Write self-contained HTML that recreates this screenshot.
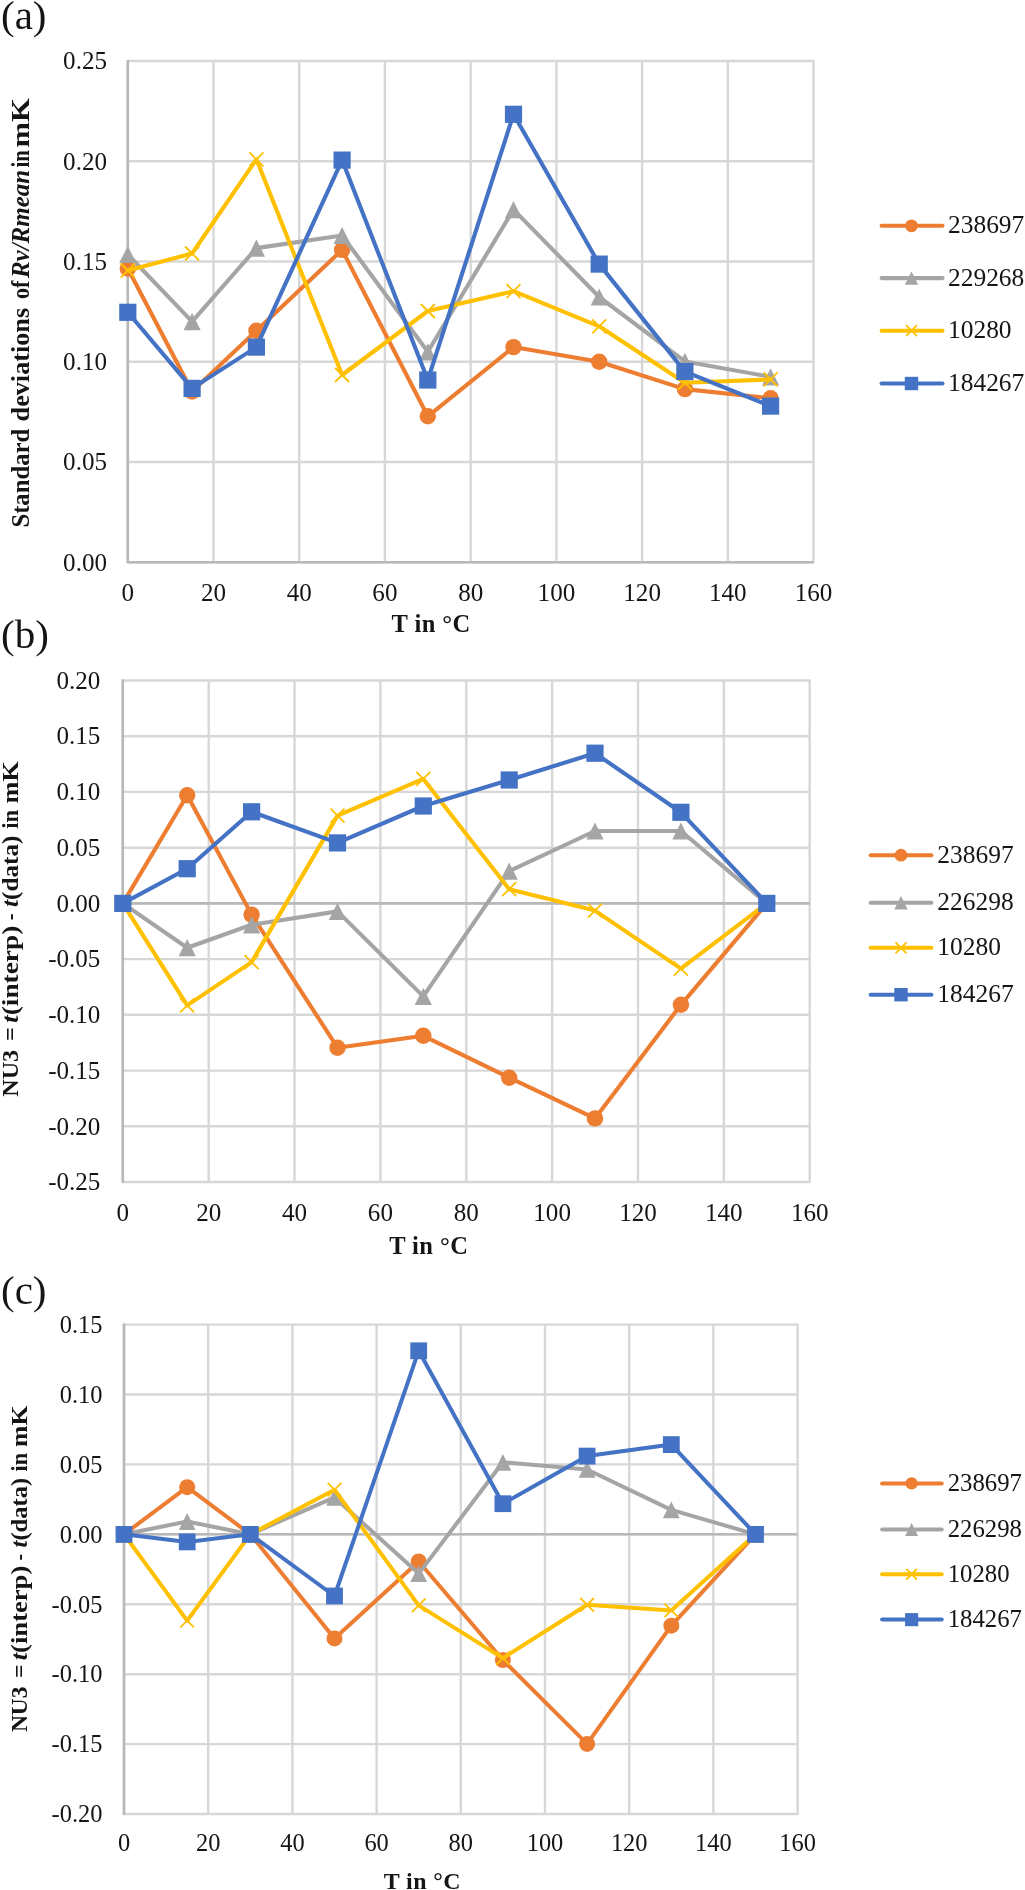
<!DOCTYPE html>
<html lang="en"><head><meta charset="utf-8"><title>Figure</title>
<style>
html,body{margin:0;padding:0;background:#fff}
svg{display:block;filter:blur(0.45px)}
text{font-family:"Liberation Serif","Times New Roman",serif;fill:#151515}
.ti{font-weight:bold}
.pl{font-size:41px}
</style></head><body>
<svg width="1025" height="1890" viewBox="0 0 1025 1890">
<rect width="1025" height="1890" fill="#fff"/>
<g id="chart-a">
<path d="M127.8 562.3H813.5M127.8 462.0H813.5M127.8 361.8H813.5M127.8 261.5H813.5M127.8 161.3H813.5M127.8 61.0H813.5M127.8 60.0V563.3M213.5 60.0V563.3M299.2 60.0V563.3M384.9 60.0V563.3M470.7 60.0V563.3M556.4 60.0V563.3M642.1 60.0V563.3M727.8 60.0V563.3M813.5 60.0V563.3" stroke="#D7D7D7" stroke-width="2.4" fill="none"/>
<path d="M127.8 60.0V563.3M127.8 562.3H813.5" stroke="#B9B9B9" stroke-width="2.6" fill="none"/>
<text class="tk" transform="translate(107.0 570.5) scale(0.962 1)" font-size="26.1" text-anchor="end">0.00</text><text class="tk" transform="translate(107.0 470.2) scale(0.962 1)" font-size="26.1" text-anchor="end">0.05</text><text class="tk" transform="translate(107.0 370.0) scale(0.962 1)" font-size="26.1" text-anchor="end">0.10</text><text class="tk" transform="translate(107.0 269.7) scale(0.962 1)" font-size="26.1" text-anchor="end">0.15</text><text class="tk" transform="translate(107.0 169.5) scale(0.962 1)" font-size="26.1" text-anchor="end">0.20</text><text class="tk" transform="translate(107.0 69.2) scale(0.962 1)" font-size="26.1" text-anchor="end">0.25</text>
<text class="tk" transform="translate(127.8 600.7) scale(0.962 1)" font-size="26.1" text-anchor="middle">0</text><text class="tk" transform="translate(213.5 600.7) scale(0.962 1)" font-size="26.1" text-anchor="middle">20</text><text class="tk" transform="translate(299.2 600.7) scale(0.962 1)" font-size="26.1" text-anchor="middle">40</text><text class="tk" transform="translate(384.9 600.7) scale(0.962 1)" font-size="26.1" text-anchor="middle">60</text><text class="tk" transform="translate(470.7 600.7) scale(0.962 1)" font-size="26.1" text-anchor="middle">80</text><text class="tk" transform="translate(556.4 600.7) scale(0.962 1)" font-size="26.1" text-anchor="middle">100</text><text class="tk" transform="translate(642.1 600.7) scale(0.962 1)" font-size="26.1" text-anchor="middle">120</text><text class="tk" transform="translate(727.8 600.7) scale(0.962 1)" font-size="26.1" text-anchor="middle">140</text><text class="tk" transform="translate(813.5 600.7) scale(0.962 1)" font-size="26.1" text-anchor="middle">160</text>
<text class="ti" x="431.1" y="631.9" font-size="24.5" letter-spacing="0.45" text-anchor="middle">T in °C</text>
<text class="ti" transform="translate(28.9 527.1) rotate(-90)" font-size="25.2" xml:space="preserve"><tspan x="-0.5" y="0" textLength="98.9" lengthAdjust="spacingAndGlyphs">Standard</tspan> <tspan x="105.7" y="0" textLength="113.5" lengthAdjust="spacingAndGlyphs">deviations</tspan> <tspan x="228.0" y="0" textLength="18.5" lengthAdjust="spacingAndGlyphs">of</tspan> <tspan x="249.0" y="0" textLength="108.2" lengthAdjust="spacingAndGlyphs"><tspan font-style="italic">Rv/Rmean</tspan></tspan> <tspan x="359.7" y="0" textLength="17.3" lengthAdjust="spacingAndGlyphs">in</tspan> <tspan x="379.5" y="0" textLength="49.4" lengthAdjust="spacingAndGlyphs">mK</tspan></text>
<text class="pl" x="1.0" y="28.7">(a)</text>
<polyline points="127.8,268.5 192.1,391.5 256.4,330.7 342.1,249.9 427.8,416.3 513.5,347.1 599.2,361.8 684.9,389.1 770.6,398.3" fill="none" stroke="#ED7D31" stroke-width="4.10" stroke-linejoin="round" stroke-linecap="round"/>
<circle cx="127.8" cy="268.5" r="8.2" fill="#ED7D31"/><circle cx="192.1" cy="391.5" r="8.2" fill="#ED7D31"/><circle cx="256.4" cy="330.7" r="8.2" fill="#ED7D31"/><circle cx="342.1" cy="249.9" r="8.2" fill="#ED7D31"/><circle cx="427.8" cy="416.3" r="8.2" fill="#ED7D31"/><circle cx="513.5" cy="347.1" r="8.2" fill="#ED7D31"/><circle cx="599.2" cy="361.8" r="8.2" fill="#ED7D31"/><circle cx="684.9" cy="389.1" r="8.2" fill="#ED7D31"/><circle cx="770.6" cy="398.3" r="8.2" fill="#ED7D31"/>
<polyline points="127.8,254.5 192.1,321.7 256.4,248.1 342.1,235.5 427.8,351.8 513.5,209.6 599.2,297.0 684.9,361.4 770.6,376.8" fill="none" stroke="#A5A5A5" stroke-width="4.10" stroke-linejoin="round" stroke-linecap="round"/>
<polygon points="127.8,245.9 136.4,263.1 119.2,263.1" fill="#A5A5A5"/><polygon points="192.1,313.1 200.7,330.3 183.5,330.3" fill="#A5A5A5"/><polygon points="256.4,239.5 265.0,256.7 247.8,256.7" fill="#A5A5A5"/><polygon points="342.1,226.9 350.7,244.1 333.5,244.1" fill="#A5A5A5"/><polygon points="427.8,343.2 436.4,360.4 419.2,360.4" fill="#A5A5A5"/><polygon points="513.5,201.0 522.1,218.2 504.9,218.2" fill="#A5A5A5"/><polygon points="599.2,288.4 607.8,305.6 590.6,305.6" fill="#A5A5A5"/><polygon points="684.9,352.8 693.5,370.0 676.3,370.0" fill="#A5A5A5"/><polygon points="770.6,368.2 779.2,385.4 762.0,385.4" fill="#A5A5A5"/>
<polyline points="127.8,270.5 192.1,253.5 256.4,159.3 342.1,375.0 427.8,311.0 513.5,291.2 599.2,326.3 684.9,382.8 770.6,379.4" fill="none" stroke="#FFC000" stroke-width="4.10" stroke-linejoin="round" stroke-linecap="round"/>
<path d="M120.8 263.5L134.8 277.5M120.8 277.5L134.8 263.5" stroke="#FFC000" stroke-width="1.8" fill="none"/><path d="M185.1 246.5L199.1 260.5M185.1 260.5L199.1 246.5" stroke="#FFC000" stroke-width="1.8" fill="none"/><path d="M249.4 152.3L263.4 166.3M249.4 166.3L263.4 152.3" stroke="#FFC000" stroke-width="1.8" fill="none"/><path d="M335.1 368.0L349.1 382.0M335.1 382.0L349.1 368.0" stroke="#FFC000" stroke-width="1.8" fill="none"/><path d="M420.8 304.0L434.8 318.0M420.8 318.0L434.8 304.0" stroke="#FFC000" stroke-width="1.8" fill="none"/><path d="M506.5 284.2L520.5 298.2M506.5 298.2L520.5 284.2" stroke="#FFC000" stroke-width="1.8" fill="none"/><path d="M592.2 319.3L606.2 333.3M592.2 333.3L606.2 319.3" stroke="#FFC000" stroke-width="1.8" fill="none"/><path d="M677.9 375.8L691.9 389.8M677.9 389.8L691.9 375.8" stroke="#FFC000" stroke-width="1.8" fill="none"/><path d="M763.6 372.4L777.6 386.4M763.6 386.4L777.6 372.4" stroke="#FFC000" stroke-width="1.8" fill="none"/>
<polyline points="127.8,312.3 192.1,388.4 256.4,347.1 342.1,160.1 427.8,380.0 513.5,114.3 599.2,264.1 684.9,371.6 770.6,406.1" fill="none" stroke="#4472C4" stroke-width="4.10" stroke-linejoin="round" stroke-linecap="round"/>
<rect x="119.2" y="303.7" width="17.2" height="17.2" fill="#4472C4"/><rect x="183.5" y="379.8" width="17.2" height="17.2" fill="#4472C4"/><rect x="247.8" y="338.5" width="17.2" height="17.2" fill="#4472C4"/><rect x="333.5" y="151.5" width="17.2" height="17.2" fill="#4472C4"/><rect x="419.2" y="371.4" width="17.2" height="17.2" fill="#4472C4"/><rect x="504.9" y="105.7" width="17.2" height="17.2" fill="#4472C4"/><rect x="590.6" y="255.5" width="17.2" height="17.2" fill="#4472C4"/><rect x="676.3" y="363.0" width="17.2" height="17.2" fill="#4472C4"/><rect x="762.0" y="397.5" width="17.2" height="17.2" fill="#4472C4"/>
<path d="M881.6 225.8H942.5" stroke="#ED7D31" stroke-width="4.10" stroke-linecap="round"/><circle cx="911.5" cy="225.8" r="6.4" fill="#ED7D31"/><text class="tk" transform="translate(948.0 233.3) scale(0.975 1)" font-size="26.1" text-anchor="start">238697</text>
<path d="M881.6 278.1H942.5" stroke="#A5A5A5" stroke-width="4.10" stroke-linecap="round"/><polygon points="911.5,271.4 918.2,284.8 904.8,284.8" fill="#A5A5A5"/><text class="tk" transform="translate(948.0 285.6) scale(0.975 1)" font-size="26.1" text-anchor="start">229268</text>
<path d="M881.6 330.7H942.5" stroke="#FFC000" stroke-width="4.10" stroke-linecap="round"/><path d="M906.0 325.2L917.0 336.2M906.0 336.2L917.0 325.2" stroke="#FFC000" stroke-width="1.8" fill="none"/><text class="tk" transform="translate(948.0 338.2) scale(0.975 1)" font-size="26.1" text-anchor="start">10280</text>
<path d="M881.6 383.5H942.5" stroke="#4472C4" stroke-width="4.10" stroke-linecap="round"/><rect x="904.8" y="376.8" width="13.4" height="13.4" fill="#4472C4"/><text class="tk" transform="translate(948.0 391.0) scale(0.975 1)" font-size="26.1" text-anchor="start">184267</text>
</g>
<g id="chart-b">
<path d="M122.8 1182.0H809.7M122.8 1126.3H809.7M122.8 1070.6H809.7M122.8 1014.8H809.7M122.8 959.1H809.7M122.8 903.4H809.7M122.8 847.7H809.7M122.8 791.9H809.7M122.8 736.2H809.7M122.8 680.5H809.7M122.8 679.5V1183.0M208.7 679.5V1183.0M294.5 679.5V1183.0M380.4 679.5V1183.0M466.3 679.5V1183.0M552.1 679.5V1183.0M638.0 679.5V1183.0M723.8 679.5V1183.0M809.7 679.5V1183.0" stroke="#D7D7D7" stroke-width="2.4" fill="none"/>
<path d="M122.8 679.5V1183.0M122.8 903.4H809.7" stroke="#B9B9B9" stroke-width="2.6" fill="none"/>
<text class="tk" transform="translate(100.4 1190.2) scale(0.962 1)" font-size="26.1" text-anchor="end">-0.25</text><text class="tk" transform="translate(100.4 1134.5) scale(0.962 1)" font-size="26.1" text-anchor="end">-0.20</text><text class="tk" transform="translate(100.4 1078.8) scale(0.962 1)" font-size="26.1" text-anchor="end">-0.15</text><text class="tk" transform="translate(100.4 1023.0) scale(0.962 1)" font-size="26.1" text-anchor="end">-0.10</text><text class="tk" transform="translate(100.4 967.3) scale(0.962 1)" font-size="26.1" text-anchor="end">-0.05</text><text class="tk" transform="translate(100.4 911.6) scale(0.962 1)" font-size="26.1" text-anchor="end">0.00</text><text class="tk" transform="translate(100.4 855.9) scale(0.962 1)" font-size="26.1" text-anchor="end">0.05</text><text class="tk" transform="translate(100.4 800.1) scale(0.962 1)" font-size="26.1" text-anchor="end">0.10</text><text class="tk" transform="translate(100.4 744.4) scale(0.962 1)" font-size="26.1" text-anchor="end">0.15</text><text class="tk" transform="translate(100.4 688.7) scale(0.962 1)" font-size="26.1" text-anchor="end">0.20</text>
<text class="tk" transform="translate(122.8 1220.7) scale(0.962 1)" font-size="26.1" text-anchor="middle">0</text><text class="tk" transform="translate(208.7 1220.7) scale(0.962 1)" font-size="26.1" text-anchor="middle">20</text><text class="tk" transform="translate(294.5 1220.7) scale(0.962 1)" font-size="26.1" text-anchor="middle">40</text><text class="tk" transform="translate(380.4 1220.7) scale(0.962 1)" font-size="26.1" text-anchor="middle">60</text><text class="tk" transform="translate(466.3 1220.7) scale(0.962 1)" font-size="26.1" text-anchor="middle">80</text><text class="tk" transform="translate(552.1 1220.7) scale(0.962 1)" font-size="26.1" text-anchor="middle">100</text><text class="tk" transform="translate(638.0 1220.7) scale(0.962 1)" font-size="26.1" text-anchor="middle">120</text><text class="tk" transform="translate(723.8 1220.7) scale(0.962 1)" font-size="26.1" text-anchor="middle">140</text><text class="tk" transform="translate(809.7 1220.7) scale(0.962 1)" font-size="26.1" text-anchor="middle">160</text>
<text class="ti" x="428.8" y="1253.7" font-size="24.5" letter-spacing="0.45" text-anchor="middle">T in °C</text>
<text class="ti" transform="translate(17.6 1096.2) rotate(-90)" font-size="24.0" xml:space="preserve"><tspan x="-0.5" y="0" textLength="46.7" lengthAdjust="spacingAndGlyphs">NU3</tspan> <tspan x="55.2" y="0" textLength="13.9" lengthAdjust="spacingAndGlyphs">=</tspan> <tspan x="73.3" y="0" textLength="97.2" lengthAdjust="spacingAndGlyphs"><tspan font-style="italic">t</tspan>(interp)</tspan> <tspan x="175.9" y="0" textLength="6.8" lengthAdjust="spacingAndGlyphs">-</tspan> <tspan x="189.3" y="0" textLength="71.4" lengthAdjust="spacingAndGlyphs"><tspan font-style="italic">t</tspan>(data)</tspan> <tspan x="267.4" y="0" textLength="19.1" lengthAdjust="spacingAndGlyphs">in</tspan> <tspan x="292.6" y="0" textLength="42.4" lengthAdjust="spacingAndGlyphs">mK</tspan></text>
<text class="pl" x="1.0" y="648.4">(b)</text>
<polyline points="122.8,903.4 187.2,795.3 251.6,914.6 337.5,1047.7 423.3,1035.8 509.2,1077.7 595.0,1118.4 680.9,1004.8 766.8,903.4" fill="none" stroke="#ED7D31" stroke-width="4.10" stroke-linejoin="round" stroke-linecap="round"/>
<circle cx="122.8" cy="903.4" r="8.2" fill="#ED7D31"/><circle cx="187.2" cy="795.3" r="8.2" fill="#ED7D31"/><circle cx="251.6" cy="914.6" r="8.2" fill="#ED7D31"/><circle cx="337.5" cy="1047.7" r="8.2" fill="#ED7D31"/><circle cx="423.3" cy="1035.8" r="8.2" fill="#ED7D31"/><circle cx="509.2" cy="1077.7" r="8.2" fill="#ED7D31"/><circle cx="595.0" cy="1118.4" r="8.2" fill="#ED7D31"/><circle cx="680.9" cy="1004.8" r="8.2" fill="#ED7D31"/><circle cx="766.8" cy="903.4" r="8.2" fill="#ED7D31"/>
<polyline points="122.8,903.4 187.2,947.7 251.6,924.8 337.5,911.4 423.3,996.4 509.2,871.1 595.0,831.0 680.9,831.0 766.8,903.4" fill="none" stroke="#A5A5A5" stroke-width="4.10" stroke-linejoin="round" stroke-linecap="round"/>
<polygon points="122.8,894.8 131.4,912.0 114.2,912.0" fill="#A5A5A5"/><polygon points="187.2,939.1 195.8,956.3 178.6,956.3" fill="#A5A5A5"/><polygon points="251.6,916.2 260.2,933.4 243.0,933.4" fill="#A5A5A5"/><polygon points="337.5,902.8 346.1,920.0 328.9,920.0" fill="#A5A5A5"/><polygon points="423.3,987.8 431.9,1005.0 414.7,1005.0" fill="#A5A5A5"/><polygon points="509.2,862.5 517.8,879.7 500.6,879.7" fill="#A5A5A5"/><polygon points="595.0,822.4 603.6,839.6 586.4,839.6" fill="#A5A5A5"/><polygon points="680.9,822.4 689.5,839.6 672.3,839.6" fill="#A5A5A5"/><polygon points="766.8,894.8 775.4,912.0 758.2,912.0" fill="#A5A5A5"/>
<polyline points="122.8,903.4 187.2,1005.4 251.6,962.1 337.5,815.6 423.3,778.9 509.2,889.2 595.0,910.6 680.9,968.6 766.8,903.4" fill="none" stroke="#FFC000" stroke-width="4.10" stroke-linejoin="round" stroke-linecap="round"/>
<path d="M115.8 896.4L129.8 910.4M115.8 910.4L129.8 896.4" stroke="#FFC000" stroke-width="1.8" fill="none"/><path d="M180.2 998.4L194.2 1012.4M180.2 1012.4L194.2 998.4" stroke="#FFC000" stroke-width="1.8" fill="none"/><path d="M244.6 955.1L258.6 969.1M244.6 969.1L258.6 955.1" stroke="#FFC000" stroke-width="1.8" fill="none"/><path d="M330.5 808.6L344.5 822.6M330.5 822.6L344.5 808.6" stroke="#FFC000" stroke-width="1.8" fill="none"/><path d="M416.3 771.9L430.3 785.9M416.3 785.9L430.3 771.9" stroke="#FFC000" stroke-width="1.8" fill="none"/><path d="M502.2 882.2L516.2 896.2M502.2 896.2L516.2 882.2" stroke="#FFC000" stroke-width="1.8" fill="none"/><path d="M588.0 903.6L602.0 917.6M588.0 917.6L602.0 903.6" stroke="#FFC000" stroke-width="1.8" fill="none"/><path d="M673.9 961.6L687.9 975.6M673.9 975.6L687.9 961.6" stroke="#FFC000" stroke-width="1.8" fill="none"/><path d="M759.8 896.4L773.8 910.4M759.8 910.4L773.8 896.4" stroke="#FFC000" stroke-width="1.8" fill="none"/>
<polyline points="122.8,903.4 187.2,868.7 251.6,811.8 337.5,842.9 423.3,806.0 509.2,780.0 595.0,753.2 680.9,812.3 766.8,903.4" fill="none" stroke="#4472C4" stroke-width="4.10" stroke-linejoin="round" stroke-linecap="round"/>
<rect x="114.2" y="894.8" width="17.2" height="17.2" fill="#4472C4"/><rect x="178.6" y="860.1" width="17.2" height="17.2" fill="#4472C4"/><rect x="243.0" y="803.2" width="17.2" height="17.2" fill="#4472C4"/><rect x="328.9" y="834.3" width="17.2" height="17.2" fill="#4472C4"/><rect x="414.7" y="797.4" width="17.2" height="17.2" fill="#4472C4"/><rect x="500.6" y="771.4" width="17.2" height="17.2" fill="#4472C4"/><rect x="586.4" y="744.6" width="17.2" height="17.2" fill="#4472C4"/><rect x="672.3" y="803.7" width="17.2" height="17.2" fill="#4472C4"/><rect x="758.2" y="894.8" width="17.2" height="17.2" fill="#4472C4"/>
<path d="M870.7 855.2H931.4" stroke="#ED7D31" stroke-width="4.10" stroke-linecap="round"/><circle cx="901.0" cy="855.2" r="6.4" fill="#ED7D31"/><text class="tk" transform="translate(937.3 862.7) scale(0.975 1)" font-size="26.1" text-anchor="start">238697</text>
<path d="M870.7 902.7H931.4" stroke="#A5A5A5" stroke-width="4.10" stroke-linecap="round"/><polygon points="901.0,896.0 907.7,909.4 894.3,909.4" fill="#A5A5A5"/><text class="tk" transform="translate(937.3 910.2) scale(0.975 1)" font-size="26.1" text-anchor="start">226298</text>
<path d="M870.7 947.8H931.4" stroke="#FFC000" stroke-width="4.10" stroke-linecap="round"/><path d="M895.5 942.3L906.5 953.3M895.5 953.3L906.5 942.3" stroke="#FFC000" stroke-width="1.8" fill="none"/><text class="tk" transform="translate(937.3 955.3) scale(0.975 1)" font-size="26.1" text-anchor="start">10280</text>
<path d="M870.7 994.7H931.4" stroke="#4472C4" stroke-width="4.10" stroke-linecap="round"/><rect x="894.3" y="988.0" width="13.4" height="13.4" fill="#4472C4"/><text class="tk" transform="translate(937.3 1002.2) scale(0.975 1)" font-size="26.1" text-anchor="start">184267</text>
</g>
<g id="chart-c">
<path d="M124.0 1814.0H797.6M124.0 1744.1H797.6M124.0 1674.2H797.6M124.0 1604.3H797.6M124.0 1534.3H797.6M124.0 1464.4H797.6M124.0 1394.5H797.6M124.0 1324.6H797.6M124.0 1323.6V1815.0M208.2 1323.6V1815.0M292.4 1323.6V1815.0M376.6 1323.6V1815.0M460.8 1323.6V1815.0M545.0 1323.6V1815.0M629.2 1323.6V1815.0M713.4 1323.6V1815.0M797.6 1323.6V1815.0" stroke="#D7D7D7" stroke-width="2.4" fill="none"/>
<path d="M124.0 1323.6V1815.0M124.0 1534.3H797.6" stroke="#B9B9B9" stroke-width="2.6" fill="none"/>
<text class="tk" transform="translate(102.5 1822.2) scale(0.962 1)" font-size="25.4" text-anchor="end">-0.20</text><text class="tk" transform="translate(102.5 1752.3) scale(0.962 1)" font-size="25.4" text-anchor="end">-0.15</text><text class="tk" transform="translate(102.5 1682.4) scale(0.962 1)" font-size="25.4" text-anchor="end">-0.10</text><text class="tk" transform="translate(102.5 1612.5) scale(0.962 1)" font-size="25.4" text-anchor="end">-0.05</text><text class="tk" transform="translate(102.5 1542.5) scale(0.962 1)" font-size="25.4" text-anchor="end">0.00</text><text class="tk" transform="translate(102.5 1472.6) scale(0.962 1)" font-size="25.4" text-anchor="end">0.05</text><text class="tk" transform="translate(102.5 1402.7) scale(0.962 1)" font-size="25.4" text-anchor="end">0.10</text><text class="tk" transform="translate(102.5 1332.8) scale(0.962 1)" font-size="25.4" text-anchor="end">0.15</text>
<text class="tk" transform="translate(124.0 1851.4) scale(0.962 1)" font-size="25.4" text-anchor="middle">0</text><text class="tk" transform="translate(208.2 1851.4) scale(0.962 1)" font-size="25.4" text-anchor="middle">20</text><text class="tk" transform="translate(292.4 1851.4) scale(0.962 1)" font-size="25.4" text-anchor="middle">40</text><text class="tk" transform="translate(376.6 1851.4) scale(0.962 1)" font-size="25.4" text-anchor="middle">60</text><text class="tk" transform="translate(460.8 1851.4) scale(0.962 1)" font-size="25.4" text-anchor="middle">80</text><text class="tk" transform="translate(545.0 1851.4) scale(0.962 1)" font-size="25.4" text-anchor="middle">100</text><text class="tk" transform="translate(629.2 1851.4) scale(0.962 1)" font-size="25.4" text-anchor="middle">120</text><text class="tk" transform="translate(713.4 1851.4) scale(0.962 1)" font-size="25.4" text-anchor="middle">140</text><text class="tk" transform="translate(797.6 1851.4) scale(0.962 1)" font-size="25.4" text-anchor="middle">160</text>
<text class="ti" x="422.4" y="1889" font-size="23.9" letter-spacing="0.45" text-anchor="middle">T in °C</text>
<text class="ti" transform="translate(26.6 1731.6) rotate(-90)" font-size="23.0" xml:space="preserve"><tspan x="-0.5" y="0" textLength="45.5" lengthAdjust="spacingAndGlyphs">NU3</tspan> <tspan x="53.7" y="0" textLength="13.6" lengthAdjust="spacingAndGlyphs">=</tspan> <tspan x="71.3" y="0" textLength="94.6" lengthAdjust="spacingAndGlyphs"><tspan font-style="italic">t</tspan>(interp)</tspan> <tspan x="171.2" y="0" textLength="6.6" lengthAdjust="spacingAndGlyphs">-</tspan> <tspan x="184.2" y="0" textLength="69.5" lengthAdjust="spacingAndGlyphs"><tspan font-style="italic">t</tspan>(data)</tspan> <tspan x="260.2" y="0" textLength="18.6" lengthAdjust="spacingAndGlyphs">in</tspan> <tspan x="284.7" y="0" textLength="41.3" lengthAdjust="spacingAndGlyphs">mK</tspan></text>
<text class="pl" x="1.0" y="1304.2">(c)</text>
<polyline points="124.0,1534.3 187.2,1487.2 250.3,1534.3 334.5,1638.4 418.7,1561.5 502.9,1660.0 587.1,1743.9 671.3,1625.7 755.5,1534.3" fill="none" stroke="#ED7D31" stroke-width="4.00" stroke-linejoin="round" stroke-linecap="round"/>
<circle cx="124.0" cy="1534.3" r="8.0" fill="#ED7D31"/><circle cx="187.2" cy="1487.2" r="8.0" fill="#ED7D31"/><circle cx="250.3" cy="1534.3" r="8.0" fill="#ED7D31"/><circle cx="334.5" cy="1638.4" r="8.0" fill="#ED7D31"/><circle cx="418.7" cy="1561.5" r="8.0" fill="#ED7D31"/><circle cx="502.9" cy="1660.0" r="8.0" fill="#ED7D31"/><circle cx="587.1" cy="1743.9" r="8.0" fill="#ED7D31"/><circle cx="671.3" cy="1625.7" r="8.0" fill="#ED7D31"/><circle cx="755.5" cy="1534.3" r="8.0" fill="#ED7D31"/>
<polyline points="124.0,1534.3 187.2,1521.5 250.3,1534.3 334.5,1497.4 418.7,1573.6 502.9,1462.3 587.1,1469.5 671.3,1509.9 755.5,1534.3" fill="none" stroke="#A5A5A5" stroke-width="4.00" stroke-linejoin="round" stroke-linecap="round"/>
<polygon points="124.0,1526.0 132.4,1542.7 115.6,1542.7" fill="#A5A5A5"/><polygon points="187.2,1513.1 195.5,1529.9 178.8,1529.9" fill="#A5A5A5"/><polygon points="250.3,1526.0 258.7,1542.7 241.9,1542.7" fill="#A5A5A5"/><polygon points="334.5,1489.0 342.9,1505.8 326.1,1505.8" fill="#A5A5A5"/><polygon points="418.7,1565.2 427.1,1582.0 410.3,1582.0" fill="#A5A5A5"/><polygon points="502.9,1453.9 511.3,1470.7 494.5,1470.7" fill="#A5A5A5"/><polygon points="587.1,1461.1 595.5,1477.8 578.7,1477.8" fill="#A5A5A5"/><polygon points="671.3,1501.5 679.7,1518.3 662.9,1518.3" fill="#A5A5A5"/><polygon points="755.5,1526.0 763.9,1542.7 747.1,1542.7" fill="#A5A5A5"/>
<polyline points="124.0,1534.3 187.2,1620.6 250.3,1534.3 334.5,1489.7 418.7,1605.4 502.9,1658.1 587.1,1604.8 671.3,1610.4 755.5,1534.3" fill="none" stroke="#FFC000" stroke-width="4.00" stroke-linejoin="round" stroke-linecap="round"/>
<path d="M117.2 1527.5L130.8 1541.2M117.2 1541.2L130.8 1527.5" stroke="#FFC000" stroke-width="1.8" fill="none"/><path d="M180.3 1613.8L194.0 1627.4M180.3 1627.4L194.0 1613.8" stroke="#FFC000" stroke-width="1.8" fill="none"/><path d="M243.5 1527.5L257.1 1541.2M243.5 1541.2L257.1 1527.5" stroke="#FFC000" stroke-width="1.8" fill="none"/><path d="M327.7 1482.9L341.3 1496.6M327.7 1496.6L341.3 1482.9" stroke="#FFC000" stroke-width="1.8" fill="none"/><path d="M411.9 1598.6L425.5 1612.2M411.9 1612.2L425.5 1598.6" stroke="#FFC000" stroke-width="1.8" fill="none"/><path d="M496.1 1651.3L509.7 1664.9M496.1 1664.9L509.7 1651.3" stroke="#FFC000" stroke-width="1.8" fill="none"/><path d="M580.3 1598.0L593.9 1611.6M580.3 1611.6L593.9 1598.0" stroke="#FFC000" stroke-width="1.8" fill="none"/><path d="M664.5 1603.6L678.1 1617.2M664.5 1617.2L678.1 1603.6" stroke="#FFC000" stroke-width="1.8" fill="none"/><path d="M748.7 1527.5L762.3 1541.2M748.7 1541.2L762.3 1527.5" stroke="#FFC000" stroke-width="1.8" fill="none"/>
<polyline points="124.0,1534.3 187.2,1541.9 250.3,1534.3 334.5,1596.0 418.7,1350.7 502.9,1503.7 587.1,1456.0 671.3,1444.6 755.5,1534.3" fill="none" stroke="#4472C4" stroke-width="4.00" stroke-linejoin="round" stroke-linecap="round"/>
<rect x="115.6" y="1526.0" width="16.8" height="16.8" fill="#4472C4"/><rect x="178.8" y="1533.5" width="16.8" height="16.8" fill="#4472C4"/><rect x="241.9" y="1526.0" width="16.8" height="16.8" fill="#4472C4"/><rect x="326.1" y="1587.6" width="16.8" height="16.8" fill="#4472C4"/><rect x="410.3" y="1342.4" width="16.8" height="16.8" fill="#4472C4"/><rect x="494.5" y="1495.3" width="16.8" height="16.8" fill="#4472C4"/><rect x="578.7" y="1447.7" width="16.8" height="16.8" fill="#4472C4"/><rect x="662.9" y="1436.2" width="16.8" height="16.8" fill="#4472C4"/><rect x="747.1" y="1526.0" width="16.8" height="16.8" fill="#4472C4"/>
<path d="M882.1 1483.4H941.7" stroke="#ED7D31" stroke-width="4.00" stroke-linecap="round"/><circle cx="911.6" cy="1483.4" r="6.2" fill="#ED7D31"/><text class="tk" transform="translate(947.7 1490.9) scale(0.975 1)" font-size="25.4" text-anchor="start">238697</text>
<path d="M882.1 1529.4H941.7" stroke="#A5A5A5" stroke-width="4.00" stroke-linecap="round"/><polygon points="911.6,1522.9 918.1,1535.9 905.1,1535.9" fill="#A5A5A5"/><text class="tk" transform="translate(947.7 1536.9) scale(0.975 1)" font-size="25.4" text-anchor="start">226298</text>
<path d="M882.1 1574.2H941.7" stroke="#FFC000" stroke-width="4.00" stroke-linecap="round"/><path d="M906.3 1568.9L916.9 1579.5M906.3 1579.5L916.9 1568.9" stroke="#FFC000" stroke-width="1.8" fill="none"/><text class="tk" transform="translate(947.7 1581.7) scale(0.975 1)" font-size="25.4" text-anchor="start">10280</text>
<path d="M882.1 1619.6H941.7" stroke="#4472C4" stroke-width="4.00" stroke-linecap="round"/><rect x="905.1" y="1613.1" width="13.1" height="13.1" fill="#4472C4"/><text class="tk" transform="translate(947.7 1627.1) scale(0.975 1)" font-size="25.4" text-anchor="start">184267</text>
</g>
</svg>
</body></html>
